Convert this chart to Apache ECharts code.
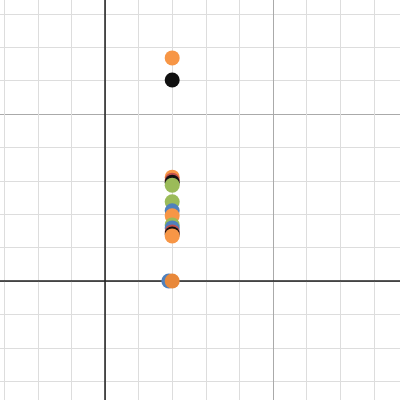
<!DOCTYPE html>
<html>
<head>
<meta charset="utf-8">
<script src="https://cdn.jsdelivr.net/npm/echarts@6/dist/echarts.min.js"></script>
<style>
html,body{margin:0;padding:0;background:#fff;overflow:hidden;width:400px;height:400px}
#wrap{position:relative;width:400px;height:400px;overflow:hidden}
#chart{position:absolute;left:-63px;top:-53px;width:504px;height:501px}
</style>
</head>
<body>
<div id="wrap"><div id="chart"></div></div>
<script>
// points, [x, y] in grid units
const pointX = [2, 2, 2, 2, 2, 2, 2, 2, 2, 2, 2, 2, 2, 2, 1.9, 2]
const pointY = [6.68, 6.02, 3.11, 3.02, 2.96, 2.87, 2.37, 2.10, 1.95, 1.68, 1.59, 1.47, 1.41, 1.35, 0, 0]
const pointColors = ['#f79646', '#111111', '#f79646', '#c0504d', '#111111', '#9bbb59', '#9bbb59', '#4f81bd',
    '#f79646', '#9bbb59', '#4f81bd', '#c0504d', '#111111', '#f79646', '#4f81bd', '#e8883a']

var myChart = echarts.init(document.getElementById('chart'))
var axisBase = {
    type: 'value',
    min: -5,
    max: 10,
    interval: 5,
    axisLabel: { show: false },
    axisTick: { show: false },
    axisLine: { onZero: true, lineStyle: { color: '#222', width: 1.5 } },
    splitLine: { lineStyle: { color: '#aaa', width: 1 } },
    minorTick: { show: false, splitNumber: 5 },
    minorSplitLine: { show: true, lineStyle: { color: '#ddd', width: 1 } },
}
var option = {
    animation: false,
    grid: { left: 0, right: 0, top: 0, bottom: 0 },
    xAxis: axisBase,
    yAxis: axisBase,
    series: [
        {
            type: 'scatter',
            symbolSize: 15,
            itemStyle: { opacity: 1 },
            data: pointX.map((x, i) => ({ value: [x, pointY[i]], itemStyle: { color: pointColors[i] } })),
        },
    ],
}
myChart.setOption(option)
</script>
</body>
</html>
